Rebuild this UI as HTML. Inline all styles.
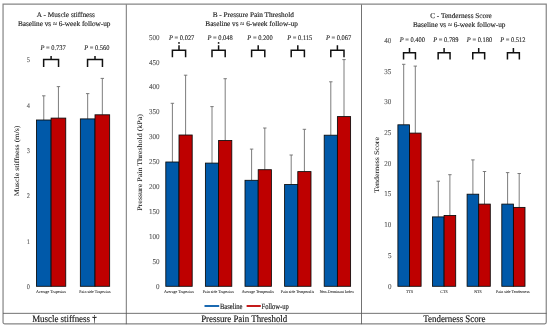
<!DOCTYPE html>
<html><head><meta charset="utf-8"><title>Figure</title>
<style>
html,body{margin:0;padding:0;background:#fff;}
body{width:550px;height:328px;overflow:hidden;}
svg text{font-family:"Liberation Serif","DejaVu Serif",serif;fill:#222;text-rendering:geometricPrecision;}
.h{text-anchor:middle;fill:#222;stroke:#222;}
.p{text-anchor:middle;fill:#222;stroke:#222;}
.t,.ta{text-anchor:end;fill:#595959;stroke:#595959;}
.c{text-anchor:middle;fill:#222;stroke:#222;}
.y{text-anchor:middle;fill:#222;stroke:#222;}
.l{text-anchor:start;fill:#222;stroke:#222;}
.cap{text-anchor:middle;fill:#111;stroke:#111;}
</style></head><body>
<svg width="550" height="328" viewBox="0 0 550 328" style="display:block">
<rect width="550" height="328" fill="#fff"/>
<g fill="none" stroke="#858585" stroke-width="1.2">
<path d="M3.05 322.4V4.05H546.25V322.4"/>
<path d="M3.05 322.3Q3.05 323.85 4.6 323.85H544.7Q546.25 323.85 546.25 322.3"/>
</g>
<g fill="none" stroke="#5a5a5a" stroke-width="0.85">
<path d="M3 313.35H546.6"/>
<path d="M126.3 4.5V324.2"/>
<path d="M361.5 4.5V324.2"/>
</g>
<path d="M43.77 120.00V95.80M42.07 95.80H45.48" stroke="#6e6e6e" stroke-width="0.9" fill="none"/>
<path d="M58.43 118.10V86.60M56.73 86.60H60.13" stroke="#6e6e6e" stroke-width="0.9" fill="none"/>
<rect x="36.45" y="120.00" width="14.65" height="166.30" fill="#0059A9" stroke="#0a0a0a" stroke-width="0.85"/>
<rect x="51.10" y="118.10" width="14.65" height="168.20" fill="#BE0000" stroke="#0a0a0a" stroke-width="0.85"/>
<path d="M87.67 118.90V93.60M85.97 93.60H89.38" stroke="#6e6e6e" stroke-width="0.9" fill="none"/>
<path d="M102.33 114.80V78.40M100.62 78.40H104.03" stroke="#6e6e6e" stroke-width="0.9" fill="none"/>
<rect x="80.35" y="118.90" width="14.65" height="167.40" fill="#0059A9" stroke="#0a0a0a" stroke-width="0.85"/>
<rect x="95.00" y="114.80" width="14.65" height="171.50" fill="#BE0000" stroke="#0a0a0a" stroke-width="0.85"/>
<path d="M43.65 67.00V59.50H58.55V67.00M51.10 59.50V56.10" stroke="#111" stroke-width="1.5" fill="none"/>
<path d="M87.55 67.00V59.50H102.45V67.00M95.00 59.50V56.10" stroke="#111" stroke-width="1.5" fill="none"/>
<text transform="translate(53.10 49.80) scale(0.11500 0.12500)" class="p" font-size="56.00" stroke-width="0.87"><tspan font-style="italic">P</tspan> = 0.737</text>
<text transform="translate(96.80 49.80) scale(0.11500 0.12500)" class="p" font-size="56.00" stroke-width="0.87"><tspan font-style="italic">P</tspan> = 0.560</text>
<text transform="translate(29.80 288.80) scale(0.11250 0.12500)" class="ta" font-size="56.00" stroke="none">0</text>
<text transform="translate(29.80 243.50) scale(0.11250 0.12500)" class="ta" font-size="56.00" stroke="none">1</text>
<text transform="translate(29.80 198.20) scale(0.11250 0.12500)" class="ta" font-size="56.00" stroke="none">2</text>
<text transform="translate(29.80 152.90) scale(0.11250 0.12500)" class="ta" font-size="56.00" stroke="none">3</text>
<text transform="translate(29.80 107.60) scale(0.11250 0.12500)" class="ta" font-size="56.00" stroke="none">4</text>
<text transform="translate(29.80 62.30) scale(0.11250 0.12500)" class="ta" font-size="56.00" stroke="none">5</text>
<text transform="translate(51.00 293.20) scale(0.12500 0.12500)" class="c" font-size="32.00" stroke-width="0.48">Average Trapezius</text>
<text transform="translate(94.90 293.20) scale(0.12500 0.12500)" class="c" font-size="32.00" stroke-width="0.48">Pain side Trapezius</text>
<text transform="translate(65.90 17.00) scale(0.12500 0.12500)" class="h" font-size="58.00" stroke-width="1.12">A - Muscle stiffness</text>
<text transform="translate(64.20 25.70) scale(0.12500 0.12500)" class="h" font-size="58.00" stroke-width="1.12">Baseline vs ≈ 6-week follow-up</text>
<text transform="translate(19.20 160.90) rotate(-90) scale(0.14250 0.12500)" class="y" font-size="56.00" stroke-width="0.42">Muscle stiffness (m/s)</text>
<text transform="translate(64.40 321.80) scale(0.11088 0.12500)" class="cap" font-size="80.00" stroke-width="1.08">Muscle stiffness †</text>
<path d="M172.40 162.00V103.30M170.70 103.30H174.10" stroke="#6e6e6e" stroke-width="0.9" fill="none"/>
<path d="M185.60 135.00V75.20M183.90 75.20H187.30" stroke="#6e6e6e" stroke-width="0.9" fill="none"/>
<rect x="165.80" y="162.00" width="13.20" height="124.30" fill="#0059A9" stroke="#0a0a0a" stroke-width="0.85"/>
<rect x="179.00" y="135.00" width="13.20" height="151.30" fill="#BE0000" stroke="#0a0a0a" stroke-width="0.85"/>
<path d="M212.00 163.10V106.60M210.30 106.60H213.70" stroke="#6e6e6e" stroke-width="0.9" fill="none"/>
<path d="M225.20 140.50V78.70M223.50 78.70H226.90" stroke="#6e6e6e" stroke-width="0.9" fill="none"/>
<rect x="205.40" y="163.10" width="13.20" height="123.20" fill="#0059A9" stroke="#0a0a0a" stroke-width="0.85"/>
<rect x="218.60" y="140.50" width="13.20" height="145.80" fill="#BE0000" stroke="#0a0a0a" stroke-width="0.85"/>
<path d="M251.60 180.30V149.10M249.90 149.10H253.30" stroke="#6e6e6e" stroke-width="0.9" fill="none"/>
<path d="M264.80 169.70V128.00M263.10 128.00H266.50" stroke="#6e6e6e" stroke-width="0.9" fill="none"/>
<rect x="245.00" y="180.30" width="13.20" height="106.00" fill="#0059A9" stroke="#0a0a0a" stroke-width="0.85"/>
<rect x="258.20" y="169.70" width="13.20" height="116.60" fill="#BE0000" stroke="#0a0a0a" stroke-width="0.85"/>
<path d="M291.20 184.50V155.00M289.50 155.00H292.90" stroke="#6e6e6e" stroke-width="0.9" fill="none"/>
<path d="M304.40 171.60V129.30M302.70 129.30H306.10" stroke="#6e6e6e" stroke-width="0.9" fill="none"/>
<rect x="284.60" y="184.50" width="13.20" height="101.80" fill="#0059A9" stroke="#0a0a0a" stroke-width="0.85"/>
<rect x="297.80" y="171.60" width="13.20" height="114.70" fill="#BE0000" stroke="#0a0a0a" stroke-width="0.85"/>
<path d="M330.80 135.20V81.80M329.10 81.80H332.50" stroke="#6e6e6e" stroke-width="0.9" fill="none"/>
<path d="M344.00 116.60V59.60M342.30 59.60H345.70" stroke="#6e6e6e" stroke-width="0.9" fill="none"/>
<rect x="324.20" y="135.20" width="13.20" height="151.10" fill="#0059A9" stroke="#0a0a0a" stroke-width="0.85"/>
<rect x="337.40" y="116.60" width="13.20" height="169.70" fill="#BE0000" stroke="#0a0a0a" stroke-width="0.85"/>
<path d="M172.40 57.30V50.30H185.60V57.30M179.00 50.30V45.30" stroke="#111" stroke-width="1.5" fill="none"/>
<circle cx="179.00" cy="42.90" r="0.9" fill="#111"/>
<path d="M212.00 57.30V50.30H225.20V57.30M218.60 50.30V45.30" stroke="#111" stroke-width="1.5" fill="none"/>
<circle cx="218.60" cy="42.90" r="0.9" fill="#111"/>
<path d="M251.60 57.30V50.30H264.80V57.30M258.20 50.30V45.30" stroke="#111" stroke-width="1.5" fill="none"/>
<path d="M291.20 57.30V50.30H304.40V57.30M297.80 50.30V45.30" stroke="#111" stroke-width="1.5" fill="none"/>
<path d="M330.80 57.30V50.30H344.00V57.30M337.40 50.30V45.30" stroke="#111" stroke-width="1.5" fill="none"/>
<text transform="translate(181.70 39.80) scale(0.11500 0.12500)" class="p" font-size="56.00" stroke-width="0.87"><tspan font-style="italic">P</tspan> = 0.027</text>
<text transform="translate(220.10 39.80) scale(0.11500 0.12500)" class="p" font-size="56.00" stroke-width="0.87"><tspan font-style="italic">P</tspan> = 0.048</text>
<text transform="translate(260.00 39.80) scale(0.11500 0.12500)" class="p" font-size="56.00" stroke-width="0.87"><tspan font-style="italic">P</tspan> = 0.200</text>
<text transform="translate(299.80 39.80) scale(0.11500 0.12500)" class="p" font-size="56.00" stroke-width="0.87"><tspan font-style="italic">P</tspan> = 0.115</text>
<text transform="translate(338.60 39.80) scale(0.11500 0.12500)" class="p" font-size="56.00" stroke-width="0.87"><tspan font-style="italic">P</tspan> = 0.067</text>
<text transform="translate(159.60 288.60) scale(0.11750 0.12500)" class="t" font-size="60.00" stroke="none">0</text>
<text transform="translate(159.60 263.70) scale(0.11750 0.12500)" class="t" font-size="60.00" stroke="none">50</text>
<text transform="translate(159.60 238.80) scale(0.11750 0.12500)" class="t" font-size="60.00" stroke="none">100</text>
<text transform="translate(159.60 213.90) scale(0.11750 0.12500)" class="t" font-size="60.00" stroke="none">150</text>
<text transform="translate(159.60 189.00) scale(0.11750 0.12500)" class="t" font-size="60.00" stroke="none">200</text>
<text transform="translate(159.60 164.10) scale(0.11750 0.12500)" class="t" font-size="60.00" stroke="none">250</text>
<text transform="translate(159.60 139.20) scale(0.11750 0.12500)" class="t" font-size="60.00" stroke="none">300</text>
<text transform="translate(159.60 114.30) scale(0.11750 0.12500)" class="t" font-size="60.00" stroke="none">350</text>
<text transform="translate(159.60 89.40) scale(0.11750 0.12500)" class="t" font-size="60.00" stroke="none">400</text>
<text transform="translate(159.60 64.50) scale(0.11750 0.12500)" class="t" font-size="60.00" stroke="none">450</text>
<text transform="translate(159.60 39.60) scale(0.11750 0.12500)" class="t" font-size="60.00" stroke="none">500</text>
<text transform="translate(178.90 293.00) scale(0.12500 0.12500)" class="c" font-size="32.00" stroke-width="0.48">Average Trapezius</text>
<text transform="translate(218.20 293.00) scale(0.12500 0.12500)" class="c" font-size="32.00" stroke-width="0.48">Pain side Trapezius</text>
<text transform="translate(257.80 293.00) scale(0.12500 0.12500)" class="c" font-size="32.00" stroke-width="0.48">Average Temporalis</text>
<text transform="translate(297.40 293.00) scale(0.12500 0.12500)" class="c" font-size="32.00" stroke-width="0.48">Pain side Temporalis</text>
<text transform="translate(336.80 293.00) scale(0.12500 0.12500)" class="c" font-size="32.00" stroke-width="0.48">Non-Dominant Index</text>
<text transform="translate(253.30 17.20) scale(0.12500 0.12500)" class="h" font-size="58.00" stroke-width="1.12">B - Pressure Pain Threshold</text>
<text transform="translate(251.60 26.00) scale(0.12500 0.12500)" class="h" font-size="58.00" stroke-width="1.12">Baseline vs ≈ 6-week follow-up</text>
<text transform="translate(142.30 162.40) rotate(-90) scale(0.14250 0.12500)" class="y" font-size="56.00" stroke-width="0.42">Pressure Pain Threshold (kPa)</text>
<text transform="translate(244.20 322.00) scale(0.11088 0.12500)" class="cap" font-size="80.00" stroke-width="1.08">Pressure Pain Threshold</text>
<path d="M204.5 306H219.2" stroke="#0059A9" stroke-width="1.8"/>
<text transform="translate(219.90 308.70) scale(0.10125 0.12500)" class="l" font-size="64.80" stroke-width="1.19">Baseline</text>
<path d="M246.6 306H260.8" stroke="#BE0000" stroke-width="1.8"/>
<text transform="translate(261.50 308.70) scale(0.10125 0.12500)" class="l" font-size="64.80" stroke-width="1.19">Follow-up</text>
<path d="M403.70 124.80V64.30M402.00 64.30H405.40" stroke="#6e6e6e" stroke-width="0.9" fill="none"/>
<path d="M415.30 133.10V66.10M413.60 66.10H417.00" stroke="#6e6e6e" stroke-width="0.9" fill="none"/>
<rect x="397.90" y="124.80" width="11.60" height="161.50" fill="#0059A9" stroke="#0a0a0a" stroke-width="0.85"/>
<rect x="409.50" y="133.10" width="11.60" height="153.20" fill="#BE0000" stroke="#0a0a0a" stroke-width="0.85"/>
<path d="M438.30 216.90V181.20M436.60 181.20H440.00" stroke="#6e6e6e" stroke-width="0.9" fill="none"/>
<path d="M449.90 215.50V174.70M448.20 174.70H451.60" stroke="#6e6e6e" stroke-width="0.9" fill="none"/>
<rect x="432.50" y="216.90" width="11.60" height="69.40" fill="#0059A9" stroke="#0a0a0a" stroke-width="0.85"/>
<rect x="444.10" y="215.50" width="11.60" height="70.80" fill="#BE0000" stroke="#0a0a0a" stroke-width="0.85"/>
<path d="M472.90 194.20V159.90M471.20 159.90H474.60" stroke="#6e6e6e" stroke-width="0.9" fill="none"/>
<path d="M484.50 204.10V171.50M482.80 171.50H486.20" stroke="#6e6e6e" stroke-width="0.9" fill="none"/>
<rect x="467.10" y="194.20" width="11.60" height="92.10" fill="#0059A9" stroke="#0a0a0a" stroke-width="0.85"/>
<rect x="478.70" y="204.10" width="11.60" height="82.20" fill="#BE0000" stroke="#0a0a0a" stroke-width="0.85"/>
<path d="M507.60 204.10V172.60M505.90 172.60H509.30" stroke="#6e6e6e" stroke-width="0.9" fill="none"/>
<path d="M519.20 207.40V173.50M517.50 173.50H520.90" stroke="#6e6e6e" stroke-width="0.9" fill="none"/>
<rect x="501.80" y="204.10" width="11.60" height="82.20" fill="#0059A9" stroke="#0a0a0a" stroke-width="0.85"/>
<rect x="513.40" y="207.40" width="11.60" height="78.90" fill="#BE0000" stroke="#0a0a0a" stroke-width="0.85"/>
<path d="M403.55 59.50V52.70H415.45V59.50M409.50 52.70V48.00" stroke="#111" stroke-width="1.5" fill="none"/>
<path d="M438.15 59.50V52.70H450.05V59.50M444.10 52.70V48.00" stroke="#111" stroke-width="1.5" fill="none"/>
<path d="M472.75 59.50V52.70H484.65V59.50M478.70 52.70V48.00" stroke="#111" stroke-width="1.5" fill="none"/>
<path d="M507.45 59.50V52.70H519.35V59.50M513.40 52.70V48.00" stroke="#111" stroke-width="1.5" fill="none"/>
<text transform="translate(412.30 42.00) scale(0.11500 0.12500)" class="p" font-size="56.00" stroke-width="0.87"><tspan font-style="italic">P</tspan> = 0.400</text>
<text transform="translate(445.90 42.00) scale(0.11500 0.12500)" class="p" font-size="56.00" stroke-width="0.87"><tspan font-style="italic">P</tspan> = 0.789</text>
<text transform="translate(479.50 42.00) scale(0.11500 0.12500)" class="p" font-size="56.00" stroke-width="0.87"><tspan font-style="italic">P</tspan> = 0.180</text>
<text transform="translate(512.80 42.00) scale(0.11500 0.12500)" class="p" font-size="56.00" stroke-width="0.87"><tspan font-style="italic">P</tspan> = 0.512</text>
<text transform="translate(391.40 288.60) scale(0.11750 0.12500)" class="t" font-size="60.00" stroke="none">0</text>
<text transform="translate(391.40 257.89) scale(0.11750 0.12500)" class="t" font-size="60.00" stroke="none">5</text>
<text transform="translate(391.40 227.18) scale(0.11750 0.12500)" class="t" font-size="60.00" stroke="none">10</text>
<text transform="translate(391.40 196.46) scale(0.11750 0.12500)" class="t" font-size="60.00" stroke="none">15</text>
<text transform="translate(391.40 165.75) scale(0.11750 0.12500)" class="t" font-size="60.00" stroke="none">20</text>
<text transform="translate(391.40 135.04) scale(0.11750 0.12500)" class="t" font-size="60.00" stroke="none">25</text>
<text transform="translate(391.40 104.33) scale(0.11750 0.12500)" class="t" font-size="60.00" stroke="none">30</text>
<text transform="translate(391.40 73.61) scale(0.11750 0.12500)" class="t" font-size="60.00" stroke="none">35</text>
<text transform="translate(391.40 42.90) scale(0.11750 0.12500)" class="t" font-size="60.00" stroke="none">40</text>
<text transform="translate(409.60 292.60) scale(0.12500 0.12500)" class="c" font-size="32.00" stroke-width="0.48">TTS</text>
<text transform="translate(444.00 292.60) scale(0.12500 0.12500)" class="c" font-size="32.00" stroke-width="0.48">CTS</text>
<text transform="translate(478.00 292.60) scale(0.12500 0.12500)" class="c" font-size="32.00" stroke-width="0.48">NTS</text>
<text transform="translate(512.80 292.60) scale(0.12500 0.12500)" class="c" font-size="32.00" stroke-width="0.48">Pain side Tenderness</text>
<text transform="translate(461.00 17.70) scale(0.12500 0.12500)" class="h" font-size="58.00" stroke-width="1.12">C - Tenderness Score</text>
<text transform="translate(459.20 26.90) scale(0.12500 0.12500)" class="h" font-size="58.00" stroke-width="1.12">Baseline vs ≈ 6-week follow-up</text>
<text transform="translate(379.00 164.90) rotate(-90) scale(0.14250 0.12500)" class="y" font-size="56.00" stroke-width="0.42">Tenderness Score</text>
<text transform="translate(454.40 321.80) scale(0.11088 0.12500)" class="cap" font-size="80.00" stroke-width="1.08">Tenderness Score</text>
</svg>
</body></html>
